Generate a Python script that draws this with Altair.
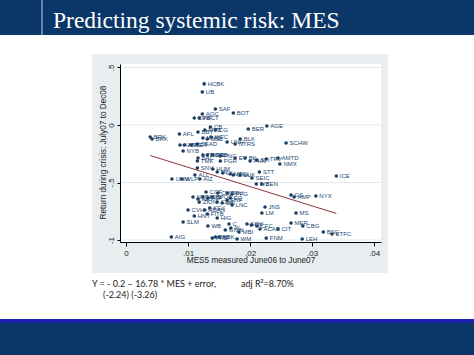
import altair as alt
import pandas as pd

# ---------------- data ----------------
labels = ["HCBK", "UB", "SAF", "BOT", "AOC", "PBCT", "CINF", "AGE", "BER", "CB",
          "CG", "MTB", "BBT", "AFL", "WFC", "USB", "MMC", "BRK", "BRK", "BLK",
          "UNH", "NTRS", "SCHW", "AXP", "AMG", "MET", "SEAD", "NYB", "TROW", "NCC",
          "KRB", "PNC", "TMK", "BAC", "PGR", "SNV", "HUM", "MI", "ALL", "UNM",
          "WLP", "AIZ", "EV", "BK", "FHN", "STI", "TRV", "AMTD", "NMX", "STT",
          "SEIC", "LUK", "CI", "MTG", "CNA", "IVZ", "BEN", "ICE", "GS", "AMP",
          "NYX", "MS", "JNS", "LM", "MER", "CBG", "CIT", "ACAS", "SOV", "RF",
          "CFC", "MBI", "GNW", "XL", "WM", "FNM", "LEH", "BSC", "ETFC", "AIG",
          "FRE", "PMI", "ABK", "C", "WB", "HIG", "SLM", "HNT", "FITB", "CVH",
          "HBAN", "KEY", "COF", "CMA", "PFG", "PRU", "NFS", "AET", "MCO", "RJF",
          "BPOP", "ZION", "CBH", "SFI", "FNF", "LNC", "EQ"]
mes = [0.0126, 0.0123, 0.0144, 0.0173, 0.0123, 0.0118, 0.0110, 0.0227, 0.0197, 0.0136,
       0.0144, 0.0127, 0.0116, 0.0086, 0.0137, 0.0131, 0.0124, 0.0039, 0.0042, 0.0184,
       0.0163, 0.0176, 0.0258, 0.0087, 0.0094, 0.0105, 0.0115, 0.0092, 0.0124, 0.0131,
       0.0139, 0.0152, 0.0115, 0.0116, 0.0152, 0.0115, 0.0140, 0.0147, 0.0111, 0.0074,
       0.0090, 0.0119, 0.0176, 0.0192, 0.0200, 0.0211, 0.0226, 0.0245, 0.0248, 0.0215,
       0.0203, 0.0184, 0.0156, 0.0168, 0.0173, 0.0210, 0.0219, 0.0339, 0.0266, 0.0271,
       0.0306, 0.0274, 0.0224, 0.0219, 0.0266, 0.0285, 0.0245, 0.0216, 0.0195, 0.0202,
       0.0211, 0.0182, 0.0160, 0.0169, 0.0179, 0.0226, 0.0284, 0.0318, 0.0332, 0.0073,
       0.0139, 0.0144, 0.0150, 0.0166, 0.0132, 0.0147, 0.0092, 0.0110, 0.0131, 0.0100,
       0.0127, 0.0135, 0.0129, 0.0148, 0.0171, 0.0163, 0.0108, 0.0116, 0.0124, 0.0132,
       0.0139, 0.0118, 0.0147, 0.0155, 0.0163, 0.0171, 0.0168]
ret = [0.357, 0.287, 0.139, 0.104, 0.096, 0.061, 0.061, -0.009, -0.035, -0.017,
       -0.043, -0.043, -0.061, -0.078, -0.104, -0.122, -0.113, -0.104, -0.122, -0.122,
       -0.148, -0.165, -0.157, -0.174, -0.174, -0.174, -0.165, -0.226, -0.261, -0.261,
       -0.261, -0.270, -0.313, -0.287, -0.313, -0.374, -0.383, -0.409, -0.435, -0.470,
       -0.470, -0.470, -0.287, -0.287, -0.313, -0.304, -0.296, -0.287, -0.339, -0.409,
       -0.461, -0.435, -0.417, -0.426, -0.435, -0.513, -0.513, -0.443, -0.609, -0.626,
       -0.617, -0.765, -0.713, -0.765, -0.852, -0.878, -0.904, -0.904, -0.861, -0.870,
       -0.878, -0.930, -0.913, -0.896, -0.991, -0.983, -0.991, -0.930, -0.948, -0.974,
       -0.983, -0.974, -0.974, -0.861, -0.878, -0.809, -0.843, -0.791, -0.774, -0.739,
       -0.739, -0.722, -0.583, -0.591, -0.600, -0.591, -0.626, -0.643, -0.626, -0.635,
       -0.626, -0.670, -0.670, -0.678, -0.652, -0.696, -0.635]

x_ticks = [0, 0.01, 0.02, 0.03, 0.04]
x_tick_labels = ["0", ".01", ".02", ".03", ".04"]
y_ticks = [0.5, 0, -0.5, -1]
y_tick_labels = [".5", "0", "-.5", "-1"]

INTERCEPT = -0.2
SLOPE = -16.78

title_text = "Predicting systemic risk: MES"
x_title = "MES5 measured June06 to June07"
y_title = "Return during crisis: July07 to Dec08"
eq_line1 = "Y = - 0.2 \u2013 16.78  * MES + error,"
eq_r2 = "adj R\u00b2=8.70%"
eq_line2 = "(-2.24) (-3.26)"

# ---------------- layout ----------------
W, H = 261, 178
PAD_L, PAD_T = 120, 64
PAD_R, PAD_B = 474 - PAD_L - W, 355 - PAD_T - H

NAVY = "#0b3768"
AXIS_FONT = "Liberation Sans"
TXT = "#222222"


def label_expr(vals, labs):
    e = "''"
    for v, l in zip(reversed(vals), reversed(labs)):
        e = f"abs(datum.value - ({v})) < 1e-9 ? '{l}' : ({e})"
    return e


def xenc():
    return alt.X("mes:Q",
                 scale=alt.Scale(domain=[-0.00097, 0.0411], nice=False, zero=False),
                 axis=alt.Axis(values=x_ticks, labelExpr=label_expr(x_ticks, x_tick_labels),
                               title=x_title, grid=False, tickSize=4, labelPadding=3,
                               labelFontSize=8, labelFont=AXIS_FONT, labelColor=TXT,
                               titleFont=AXIS_FONT, titleFontSize=8.2, titleFontWeight="normal",
                               titleColor=TXT, titleY=14, titleBaseline="top",
                               domainColor="#000000", tickColor="#000000", zindex=1,
                               labelFlush=False, labelOverlap=False))


def yenc():
    return alt.Y("ret:Q",
                 scale=alt.Scale(domain=[-1.017, 0.530], nice=False, zero=False),
                 axis=alt.Axis(values=y_ticks, labelExpr=label_expr(y_ticks, y_tick_labels),
                               labelAngle=270, labelAlign="center", labelBaseline="bottom",
                               title=y_title, grid=False, tickSize=3, labelPadding=2,
                               labelFontSize=8, labelFont=AXIS_FONT, labelColor=TXT,
                               titleFont=AXIS_FONT, titleFontSize=8.2, titleFontWeight="normal",
                               titleColor=TXT, titleAngle=270, titleX=-13, titleY=88,
                               titleAlign="center", titleBaseline="bottom",
                               domainColor="#000000", tickColor="#000000", zindex=1,
                               labelFlush=False, labelOverlap=False))


one = pd.DataFrame({"k": [0]})


def rect(x, x2, y, y2, color):
    return alt.Chart(one).mark_rect(color=color).encode(
        x=alt.value(x), x2=alt.value(x2), y=alt.value(y), y2=alt.value(y2))


def text(s, x, y, **kw):
    return alt.Chart(one).mark_text(text=s, align="left", baseline="alphabetic", **kw).encode(
        x=alt.value(x), y=alt.value(y))


pts = pd.DataFrame({"label": labels, "mes": mes, "ret": ret})
fit_x = [min(mes), max(mes)]
fit = pd.DataFrame({"mes": fit_x, "ret": [INTERCEPT + SLOPE * v for v in fit_x]})
grid = pd.DataFrame({"ret": y_ticks})

header = rect(-PAD_L, 474 - PAD_L, -PAD_T, 35 - PAD_T, NAVY)
header_line = alt.Chart(one).mark_rule(color="#c9d2de", strokeWidth=1).encode(
    x=alt.value(42 - PAD_L), y=alt.value(-PAD_T), y2=alt.value(35 - PAD_T))
title = text(title_text, 53 - PAD_L, 28 - PAD_T, font="Liberation Serif", fontSize=23.5, color="white")

graph_region = rect(92 - PAD_L, 388 - PAD_L, 54 - PAD_T, 273 - PAD_T, "#e8eef0")
plot_region = rect(0, W, 0, H, "#ffffff")

grid_lines = alt.Chart(grid).mark_rule(color="#e2eaed", strokeWidth=1).encode(
    y=yenc(), x=alt.value(0), x2=alt.value(W))

points = alt.Chart(pts).mark_circle(size=13, color="#1a3f66", opacity=1).encode(x=xenc(), y=yenc())
point_labels = alt.Chart(pts).mark_text(align="left", baseline="middle", dx=3.5, fontSize=6,
                                        font=AXIS_FONT, color="#1a476f").encode(
    x=xenc(), y=yenc(), text="label:N")
fit_line = alt.Chart(fit).mark_line(color="#90353b", strokeWidth=1).encode(x=xenc(), y=yenc())

bottom_line = rect(-PAD_L, 474 - PAD_L, 319 - PAD_T, 323 - PAD_T, "#1e22b0")
bottom_band = rect(-PAD_L, 474 - PAD_L, 323 - PAD_T, 355 - PAD_T, NAVY)

eq1 = text(eq_line1, 92 - PAD_L, 287 - PAD_T, font="Lato", fontSize=9, color=TXT)
eq2 = text(eq_r2, 241 - PAD_L, 287 - PAD_T, font="Lato", fontSize=9, color=TXT)
eq3 = text(eq_line2, 103 - PAD_L, 298 - PAD_T, font="Lato", fontSize=9, color=TXT)

chart = alt.layer(
    header, header_line, title, graph_region, plot_region, grid_lines,
    points, point_labels, fit_line, bottom_line, bottom_band, eq1, eq2, eq3
).properties(
    width=W, height=H,
    padding={"left": PAD_L, "top": PAD_T, "right": PAD_R, "bottom": PAD_B},
    autosize="none", background="white"
).configure_view(strokeWidth=0)

chart.save("out.html", embed_options={"renderer": "svg", "actions": False})
